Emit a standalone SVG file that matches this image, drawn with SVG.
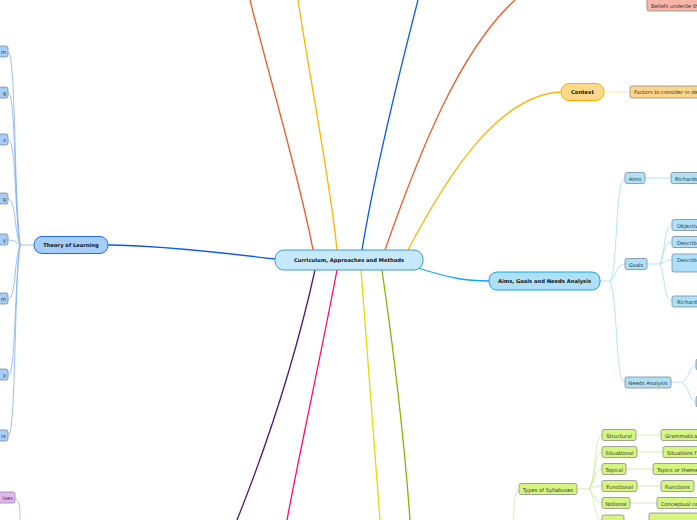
<svg xmlns="http://www.w3.org/2000/svg" width="697" height="520" viewBox="0 0 697 520">
<style>
text{font-family:"DejaVu Sans","Liberation Sans",sans-serif;font-size:5.2px;fill:#333;stroke:none}
.m{font-weight:bold;fill:#111}
.c{fill:none}
</style>
<rect width="697" height="520" fill="#fff"/>
<g id="connectors" class="c">
<path d="M313,250 C300,180 270,80 250,0" stroke="#f05a28" stroke-width="1.3"/>
<path d="M337,250 C330,180 310,80 298,0" stroke="#ffb300" stroke-width="1.3"/>
<path d="M362,250 C375,170 400,70 418,0" stroke="#0b5fd6" stroke-width="1.3"/>
<path d="M385,250 C420,150 460,50 515,0" stroke="#f05a28" stroke-width="1.3"/>
<path d="M408,250 C450,170 500,95 561,92" stroke="#ffb300" stroke-width="1.3"/>
<path d="M275,259 C200,250 150,245 108,245" stroke="#0b5fd6" stroke-width="1.3"/>
<path d="M418,268 C450,278 465,281 489,281" stroke="#11a7ef" stroke-width="1.3"/>
<path d="M382,270 C395,360 405,450 410,520" stroke="#7fb800" stroke-width="1.3"/>
<path d="M361,270 C368,360 375,450 380,520" stroke="#e8d800" stroke-width="1.3"/>
<path d="M337,270 C320,360 300,450 287,520" stroke="#ff0a6a" stroke-width="1.3"/>
<path d="M315,270 C295,360 265,450 237,520" stroke="#4b1a7a" stroke-width="1.3"/>
<g stroke="#7fb0f0" stroke-width="0.8">
<path d="M34,245 L20,245"/>
<path d="M20,245 C14,200 16,52 8,52"/>
<path d="M20,245 C14,200 16,93 8,93"/>
<path d="M20,245 C14,200 16,140 8,140"/>
<path d="M20,245 C14,230 16,199 8,199"/>
<path d="M20,245 C16,242 14,240 8,240"/>
<path d="M20,245 C14,260 16,299 8,299"/>
<path d="M20,245 C14,290 16,375 8,375"/>
<path d="M20,245 C14,290 16,436 8,436"/>
</g>
<path d="M15,498 C20,500 20,510 20,520" stroke="#c9a6d6" stroke-width="0.8"/>
<path d="M604,92 L630,92" stroke="#ffd98a" stroke-width="0.8"/>
<path d="M645,2 C648,4 650,6 647,6" stroke="#f9b5a7" stroke-width="0.8"/>
<g stroke="#9fdcf7" stroke-width="0.8">
<path d="M600,281 L610,281"/>
<path d="M610,281 C618,270 615,178 625,178"/>
<path d="M610,281 C618,275 615,264 625,264"/>
<path d="M610,281 C618,300 615,382 625,382"/>
<path d="M645,178 L671,178"/>
<path d="M647,264 L660,264"/>
<path d="M660,264 C665,255 664,225 672,225"/>
<path d="M660,264 C665,252 664,242 672,242"/>
<path d="M660,264 C665,262 666,260 672,260"/>
<path d="M660,264 C665,275 664,301 672,301"/>
<path d="M671,382 L682,382"/>
<path d="M682,382 C690,378 688,367 697,365"/>
<path d="M682,382 C690,388 688,400 697,402"/>
</g>
<g stroke="#cde89a" stroke-width="0.8">
<path d="M519,489 C512,495 515,510 513,520"/>
<path d="M577,489 L589,489"/>
<path d="M589,489 C596,480 594,435 602,435"/>
<path d="M589,489 C596,480 594,452 602,452"/>
<path d="M589,489 C596,480 594,469 602,469"/>
<path d="M589,489 C596,486 594,486 602,486"/>
<path d="M589,489 C596,495 594,503 602,503"/>
<path d="M589,489 C596,500 594,520 602,520"/>
<path d="M636,435 L661,435"/>
<path d="M637,452 L663,452"/>
<path d="M626,469 L653,469"/>
<path d="M637,486 L661,486"/>
<path d="M630,503 L657,503"/>
</g>
</g>
<g id="central"><rect x="275" y="250" width="148" height="20" rx="9" fill="#c5e9fb" stroke="#3b9ad9"/><text class="m" x="349" y="262" text-anchor="middle" font-size="6.3">Curriculum, Approaches and Methods</text></g>
<g id="theory"><rect x="34" y="236.5" width="74" height="17" rx="8" fill="#a6cdf7" stroke="#1f6fd6"/><text class="m" x="71" y="247" text-anchor="middle">Theory of Learning</text></g>
<g id="left-children" fill="#a6cdf7" stroke="#7f8c99" stroke-width="0.8">
<rect x="-20" y="46" width="28" height="11" rx="2"/><text x="6" y="54" text-anchor="end">m</text>
<rect x="-20" y="87" width="28" height="11" rx="2"/><text x="6" y="95" text-anchor="end">g</text>
<rect x="-20" y="134" width="28" height="11" rx="2"/><text x="6" y="142" text-anchor="end">s</text>
<rect x="-20" y="193" width="28" height="11" rx="2"/><text x="6" y="201" text-anchor="end">g</text>
<rect x="-20" y="234" width="28" height="11" rx="2"/><text x="6" y="242" text-anchor="end">y</text>
<rect x="-20" y="293" width="28" height="11" rx="2"/><text x="6" y="301" text-anchor="end">m</text>
<rect x="-20" y="369" width="28" height="11" rx="2"/><text x="6" y="377" text-anchor="end">y</text>
<rect x="-20" y="430" width="28" height="11" rx="2"/><text x="6" y="438" text-anchor="end">rs</text>
</g>
<g id="purple"><rect x="-20" y="492" width="35" height="11" rx="2" fill="#e6b3f5" stroke="#8c8c99" stroke-width="0.8"/><text x="13" y="500" text-anchor="end">ives</text></g>
<g id="beliefs"><rect x="647" y="-2" width="60" height="13" rx="2" fill="#f9b5a7" stroke="#8c8c8c" stroke-width="0.8"/><text x="651" y="7.5">Beliefs underlie th</text></g>
<g id="context"><rect x="561" y="83.5" width="43" height="17" rx="8" fill="#ffd98a" stroke="#f5b300"/><text class="m" x="582.5" y="94" text-anchor="middle">Context</text></g>
<g id="factors"><rect x="630" y="86" width="80" height="12" rx="2" fill="#fcd58c" stroke="#8c8c8c" stroke-width="0.8"/><text x="634" y="94">Factors to consider in det</text></g>
<g id="aims-goals"><rect x="489" y="272" width="111" height="18" rx="8" fill="#aee1f7" stroke="#1aa3e8"/><text class="m" x="544.5" y="283" text-anchor="middle">Aims, Goals and Needs Analysis</text></g>
<g id="aims-children" fill="#aee1f7" stroke="#7f8c99" stroke-width="0.8">
<rect x="625" y="172.5" width="20" height="11" rx="2"/><text x="635" y="180.5" text-anchor="middle">Aims</text>
<rect x="671" y="172.5" width="40" height="11" rx="2"/><text x="675" y="180.5">Richards</text>
<rect x="625" y="258.5" width="22" height="11" rx="2"/><text x="636" y="266.5" text-anchor="middle">Goals</text>
<rect x="672" y="219.5" width="40" height="11" rx="2"/><text x="677" y="227.5">Objectiv</text>
<rect x="672" y="236.5" width="40" height="11" rx="2"/><text x="677" y="244.5">Describe</text>
<rect x="672" y="254" width="40" height="18" rx="2"/><text x="677" y="261.5">Describe</text>
<rect x="672" y="296" width="40" height="11" rx="2"/><text x="677" y="304">Richards</text>
<rect x="625" y="377" width="46" height="11" rx="2"/><text x="648" y="385" text-anchor="middle">Needs Analysis</text>
<rect x="696" y="359" width="10" height="11" rx="2"/>
<rect x="696" y="396" width="10" height="11" rx="2"/>
</g>
<g id="syllabuses" fill="#d5f57f" stroke="#8c8c8c" stroke-width="0.8">
<rect x="519" y="483.5" width="58" height="11" rx="2"/><text x="548" y="491.5" text-anchor="middle">Types of Syllabuses</text>
<rect x="602" y="429.5" width="34" height="11" rx="2"/><text x="619" y="437.5" text-anchor="middle">Structural</text>
<rect x="602" y="446.5" width="35" height="11" rx="2"/><text x="619.5" y="454.5" text-anchor="middle">Situational</text>
<rect x="602" y="463.5" width="24" height="11" rx="2"/><text x="614" y="471.5" text-anchor="middle">Topical</text>
<rect x="602" y="480.5" width="35" height="11" rx="2"/><text x="619.5" y="488.5" text-anchor="middle">Functional</text>
<rect x="602" y="497.5" width="28" height="11" rx="2"/><text x="616" y="505.5" text-anchor="middle">Notional</text>
<rect x="602" y="515" width="22" height="11" rx="2"/>
<rect x="661" y="429.5" width="45" height="11" rx="2"/><text x="665" y="437.5">Grammatical</text>
<rect x="663" y="446.5" width="45" height="11" rx="2"/><text x="667" y="454.5">Situations f</text>
<rect x="653" y="463.5" width="55" height="11" rx="2"/><text x="657" y="471.5">Topics or theme</text>
<rect x="661" y="480.5" width="33" height="11" rx="2"/><text x="677.5" y="488.5" text-anchor="middle">Functions</text>
<rect x="657" y="497.5" width="50" height="11" rx="2"/><text x="661" y="505.5">Conceptual ca</text>
<rect x="649" y="513" width="55" height="11" rx="2"/>
</g>
</svg>
